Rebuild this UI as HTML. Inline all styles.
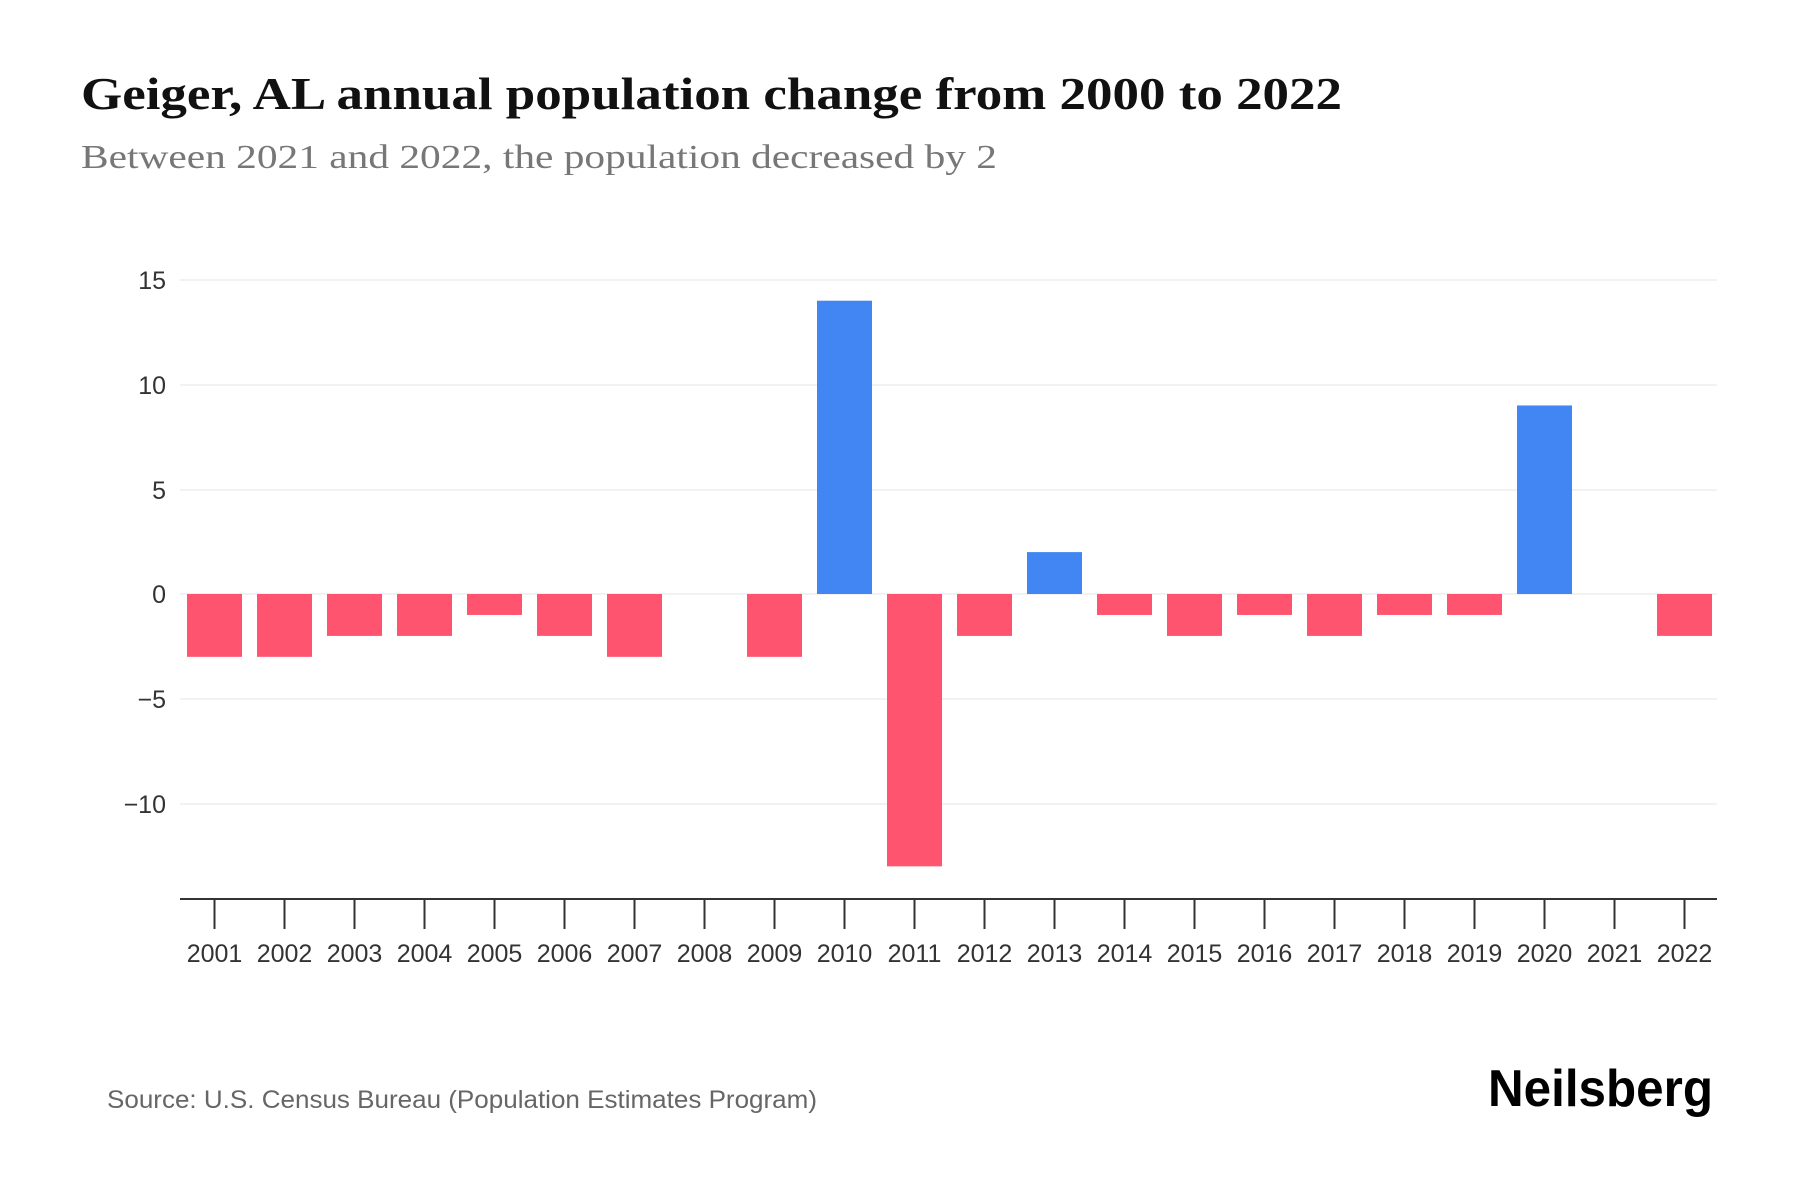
<!DOCTYPE html>
<html><head><meta charset="utf-8"><style>html,body{margin:0;padding:0;background:#fff;}svg{display:block}</style></head>
<body>
<svg width="1800" height="1200" viewBox="0 0 1800 1200" xmlns="http://www.w3.org/2000/svg">
<rect width="1800" height="1200" fill="#fff"/>
<text x="81" y="109" font-family="Liberation Serif, serif" font-weight="bold" font-size="46" fill="#111" textLength="1261" lengthAdjust="spacingAndGlyphs">Geiger, AL annual population change from 2000 to 2022</text>
<text x="81" y="168" font-family="Liberation Serif, serif" font-size="34" fill="#777" textLength="916" lengthAdjust="spacingAndGlyphs">Between 2021 and 2022, the population decreased by 2</text>
<g stroke="#eee" stroke-width="1.5">
<line x1="180" x2="1717" y1="280" y2="280"/>
<line x1="180" x2="1717" y1="385" y2="385"/>
<line x1="180" x2="1717" y1="490" y2="490"/>
<line x1="180" x2="1717" y1="594" y2="594"/>
<line x1="180" x2="1717" y1="699" y2="699"/>
<line x1="180" x2="1717" y1="804" y2="804"/>
</g>
<g font-family="Liberation Sans, sans-serif" font-size="25" fill="#333" text-anchor="end">
<text x="166" y="289">15</text><text x="166" y="394">10</text><text x="166" y="499">5</text>
<text x="166" y="603">0</text><text x="166" y="708">−5</text><text x="166" y="813">−10</text>
</g>
<g id="bars"></g>
<line x1="180" x2="1717" y1="899" y2="899" stroke="#333" stroke-width="2"/>
<g id="ticks" stroke="#333" stroke-width="2"></g>
<g id="labels" font-family="Liberation Sans, sans-serif" font-size="25" fill="#333" text-anchor="middle"></g>
<text x="107" y="1108" font-family="Liberation Sans, sans-serif" font-size="25" fill="#666" textLength="710" lengthAdjust="spacingAndGlyphs">Source: U.S. Census Bureau (Population Estimates Program)</text>
<text x="1713" y="1106" font-family="Liberation Sans, sans-serif" font-weight="bold" font-size="52" fill="#000" text-anchor="end" textLength="225" lengthAdjust="spacingAndGlyphs">Neilsberg</text>
</svg>
<script>
var v=[-3,-3,-2,-2,-1,-2,-3,0,-3,14,-13,-2,2,-1,-2,-1,-2,-1,-1,9,0,-2];
var ns="http://www.w3.org/2000/svg",b=document.getElementById("bars"),t=document.getElementById("ticks"),l=document.getElementById("labels");
for(var i=0;i<22;i++){var cx=214.5+i*70.0,y0=594,u=20.95;
if(v[i]!==0){var r=document.createElementNS(ns,"rect");var h=Math.abs(v[i])*u;
r.setAttribute("x",cx-27.5);r.setAttribute("width",55);r.setAttribute("y",v[i]>0?y0-h:y0);r.setAttribute("height",h);
r.setAttribute("fill",v[i]>0?"#4286f4":"#ff546f");b.appendChild(r);}
var k=document.createElementNS(ns,"line");k.setAttribute("x1",cx);k.setAttribute("x2",cx);k.setAttribute("y1",899);k.setAttribute("y2",929);t.appendChild(k);
var s=document.createElementNS(ns,"text");s.setAttribute("x",cx);s.setAttribute("y",962);s.textContent=2001+i;l.appendChild(s);}
</script>
</body></html>
